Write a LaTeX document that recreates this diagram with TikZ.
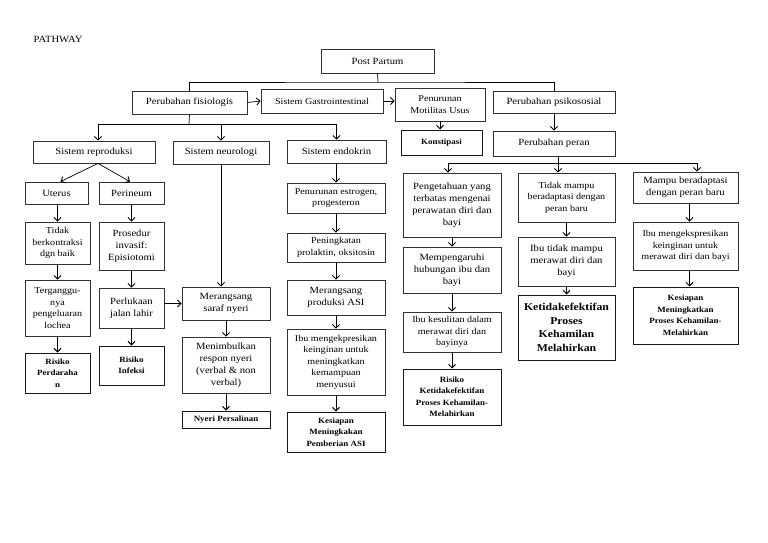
\documentclass[tikz,border=0pt]{standalone}
\usepackage{fontspec}
\setmainfont{Liberation Serif}[FakeStretch=1.12]
\usepackage{tikz}
\usetikzlibrary{arrows.meta, positioning}

\begin{document}
\begin{tikzpicture}[x=1pt, y=-1pt,
		box/.style={draw=black!80, line width=0.8pt, align=center, inner sep=1pt, fill=white, font=\fontsize{9.5}{12}\selectfont},
		smallbox/.style={box, font=\fontsize{9}{11.5}\selectfont},
		boldbox/.style={box, line width=1pt, draw=black!90, font=\fontsize{8}{11.5}\selectfont\bfseries},
		ln/.style={line width=0.7pt},
		arr/.style={ln, -{Straight Barb[length=3.5pt, width=7pt, line width=0.9pt]}}]
	\useasboundingbox (0,0) rectangle (768,543);
	
	% Title
	\node[font=\fontsize{9.5}{11}\selectfont] (title) at (58,39) {PATHWAY};
	
	% Top level
	\node[box, minimum width=113pt, minimum height=24pt] (postpartum) at (377.5,61) {Post Partum};
	\node[box, minimum width=115pt, minimum height=23pt] (fisiologis) at (189.5,102.5) {Perubahan fisiologis};
	\node[smallbox, minimum width=122pt, minimum height=24pt] (gastro) at (322,101) {Sistem Gastrointestinal};
	\node[smallbox, minimum width=90pt, minimum height=33pt] (motilitas) at (440,104.5) {Penurunan\\Motilitas Usus};
	\node[box, minimum width=122pt, minimum height=22pt] (psikososial) at (554,102) {Perubahan psikososial};
	\node[boldbox, minimum width=81pt, minimum height=25pt] (konstipasi) at (441.5,142.5) {Konstipasi};
	\node[box, minimum width=122pt, minimum height=25pt] (peran) at (554,143.5) {Perubahan peran};
	
	% Sistem
	\node[box, minimum width=122pt, minimum height=22pt] (reproduksi) at (94,152) {Sistem reproduksi};
	\node[box, minimum width=96pt, minimum height=23pt] (neurologi) at (221,152.5) {Sistem neurologi};
	\node[box, minimum width=99pt, minimum height=23pt] (endokrin) at (336.5,151.5) {Sistem endokrin};
	
	% Reproduksi
	\node[box, minimum width=63pt, minimum height=22pt] (uterus) at (56.5,193) {Uterus};
	\node[box, minimum width=65pt, minimum height=22pt] (perineum) at (131.5,193) {Perineum};
	\node[smallbox, minimum width=65pt, minimum height=42pt] (tidak) at (57.5,243) {Tidak\\berkontraksi\\dgn baik};
	\node[smallbox, minimum width=65pt, minimum height=56pt] (terganggu) at (57.5,308) {Terganggu-\\nya\\pengeluaran\\lochea};
	\node[boldbox, minimum width=65pt, minimum height=40pt] (perdarahan) at (57.5,373) {Risiko\\Perdaraha\\n};
	\node[box, minimum width=65pt, minimum height=48pt] (prosedur) at (131.5,246) {Prosedur\\invasif:\\Episiotomi};
	\node[box, minimum width=65pt, minimum height=40pt] (perlukaan) at (131.5,308) {Perlukaan\\jalan lahir};
	\node[boldbox, minimum width=65pt, minimum height=39pt] (infeksi) at (131.5,365.5) {Risiko\\Infeksi};
	
	% Neurologi
	\node[box, minimum width=88pt, minimum height=33pt] (saraf) at (226,303.5) {Merangsang\\saraf nyeri};
	\node[box, minimum width=88pt, minimum height=56pt] (respon) at (226,365) {Menimbulkan\\respon nyeri\\(verbal \& non\\verbal)};
	\node[boldbox, minimum width=88pt, minimum height=17pt] (nyeri) at (226,419.5) {Nyeri Persalinan};
	
	% Endokrin
	\node[smallbox, minimum width=98pt, minimum height=30pt] (estrogen) at (336,198) {Penurunan estrogen,\\progesteron};
	\node[smallbox, minimum width=98pt, minimum height=29pt] (prolaktin) at (336,247.5) {Peningkatan\\prolaktin, oksitosin};
	\node[box, minimum width=98pt, minimum height=35pt] (produksi) at (336,297.5) {Merangsang\\produksi ASI};
	\node[smallbox, minimum width=98pt, minimum height=66pt] (menyusui) at (336,362) {Ibu mengekpresikan\\keinginan untuk\\meningkatkan\\kemampuan\\menyusui};
	\node[boldbox, minimum width=98pt, minimum height=40pt] (siapasi) at (336,432) {Kesiapan\\Meningkakan\\Pemberian ASI};
	
	% Psikososial
	\node[box, minimum width=98pt, minimum height=64pt] (pengetahuan) at (452,205) {Pengetahuan yang\\terbatas mengenai\\perawatan diri dan\\bayi};
	\node[box, minimum width=98pt, minimum height=46pt] (hubungan) at (452,270) {Mempengaruhi\\hubungan ibu dan\\bayi};
	\node[smallbox, minimum width=98pt, minimum height=40pt] (kesulitan) at (452,332) {Ibu kesulitan dalam\\merawat diri dan\\bayinya};
	\node[boldbox, minimum width=98pt, minimum height=56pt] (risikoproses) at (452,397) {Risiko\\Ketidakefektifan\\Proses Kehamilan-\\Melahirkan};
	\node[smallbox, minimum width=97pt, minimum height=49pt] (tidakmampu) at (566.5,197.5) {Tidak mampu\\beradaptasi dengan\\peran baru};
	\node[box, minimum width=97pt, minimum height=49pt] (ibutidak) at (566.5,261.5) {Ibu tidak mampu\\merawat diri dan\\bayi};
	\node[boldbox, minimum width=97pt, minimum height=65pt, font=\fontsize{10.5}{13.5}\selectfont\bfseries] (ketidakefektifan) at (566.5,327.5) {Ketidakefektifan\\Proses\\Kehamilan\\Melahirkan};
	\node[box, minimum width=105pt, minimum height=31pt] (mampu) at (685.5,187.5) {Mampu beradaptasi\\dengan peran baru};
	\node[smallbox, minimum width=105pt, minimum height=48pt] (ibuekspresi) at (685.5,246) {Ibu mengekspresikan\\keinginan untuk\\merawat diri dan bayi};
	\node[boldbox, minimum width=105pt, minimum height=57pt] (siapproses) at (685.5,315.5) {Kesiapan\\Meningkatkan\\Proses Kehamilan-\\Melahirkan};
	
	% Branch points
	\coordinate (top) at (378,82);
	\coordinate (fis) at (189,124);
	\coordinate (per) at (558,163);
	
	% Top connectors
	\draw[ln] (postpartum.south) -- (top);
	\draw[ln] (fisiologis.north) |- (top) -| (psikososial.north);
	\draw[arr] (fisiologis.east) -- (gastro.west);
	\draw[arr] (gastro.east) -- (gastro.east -| motilitas.west);
	\draw[arr] (motilitas.south) -- (motilitas.south |- konstipasi.north);
	\draw[arr] (psikososial) -- (peran);
	
	% Fisiologis branches
	\draw[ln] (fisiologis.south) -- (fis);
	\draw[ln] ([xshift=4pt]reproduksi.north |- fis) -- (endokrin.north |- fis);
	\draw[arr] ([xshift=4pt]reproduksi.north |- fis) -- ([xshift=4pt]reproduksi.north);
	\draw[arr] (neurologi.north |- fis) -- (neurologi.north);
	\draw[arr] (endokrin.north |- fis) -- (endokrin.north);
	
	% Reproduksi
	\draw[arr] ([xshift=4pt]reproduksi.south) -- ([xshift=4pt]uterus.north);
	\draw[arr] ([xshift=4pt]reproduksi.south) -- ([xshift=-1.5pt]perineum.north);
	\draw[arr] (uterus.south -| tidak) -- (tidak.north);
	\draw[arr] (tidak) -- (terganggu);
	\draw[arr] (terganggu) -- (perdarahan);
	\draw[arr] (perineum) -- (prosedur);
	\draw[arr] (prosedur) -- (perlukaan);
	\draw[arr] (perlukaan) -- (infeksi);
	\draw[arr] (perlukaan.east |- saraf) -- (saraf.west);
	
	% Neurologi
	\draw[arr] (neurologi.south) -- (neurologi.south |- saraf.north);
	\draw[arr] (saraf) -- (respon);
	\draw[arr] (respon) -- (nyeri);
	
	% Endokrin
	\draw[arr] (endokrin.south -| estrogen) -- (estrogen.north);
	\draw[arr] (estrogen) -- (prolaktin);
	\draw[arr] (prolaktin) -- (produksi);
	\draw[arr] (produksi) -- (menyusui);
	\draw[arr] (menyusui) -- (siapasi);
	
	% Peran branches
	\draw[ln] (peran.south -| per) -- (per);
	\draw[ln] ([xshift=-4pt]pengetahuan.north |- per) -- ([xshift=11.5pt]mampu.north |- per);
	\draw[arr] ([xshift=-4pt]pengetahuan.north |- per) -- ([xshift=-4pt]pengetahuan.north);
	\draw[arr] (per) -- (per |- tidakmampu.north);
	\draw[arr] ([xshift=11.5pt]mampu.north |- per) -- ([xshift=11.5pt]mampu.north);
	\draw[arr] (pengetahuan) -- (hubungan);
	\draw[arr] (hubungan) -- (kesulitan);
	\draw[arr] (kesulitan) -- (risikoproses);
	\draw[arr] (tidakmampu) -- (ibutidak);
	\draw[arr] (ibutidak) -- (ketidakefektifan);
	\draw[arr] ([xshift=4pt]mampu.south) -- ([xshift=4pt]ibuekspresi.north);
	\draw[arr] ([xshift=4pt]ibuekspresi.south) -- ([xshift=4pt]siapproses.north);
\end{tikzpicture}
\end{document}
